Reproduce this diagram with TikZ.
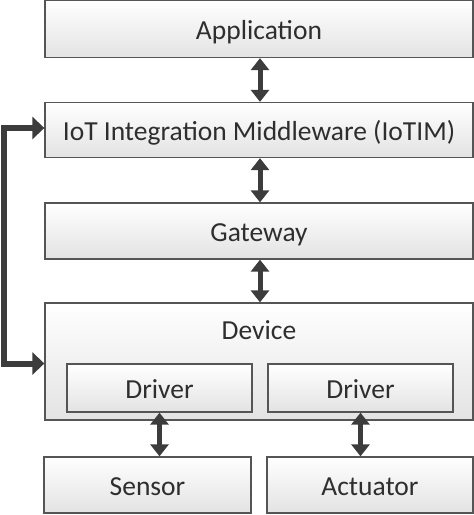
\documentclass[tikz,border=0pt]{standalone}
\usepackage{fontspec}
\setmainfont{Carlito}
\usetikzlibrary{arrows.meta}
\definecolor{bordc}{HTML}{555555}
\definecolor{arrc}{HTML}{3C3C3C}
\tikzset{
  lbl/.style={text=black!82, font=\fontsize{27.5}{32}\selectfont, text height=23pt, text depth=3pt},
  box/.style={lbl, draw=bordc, line width=1.3pt, top color=white, bottom color=black!11,
    inner sep=0pt},
  dbl/.style={draw=arrc, line width=5pt,
    {Triangle[width=18pt,length=12pt]}-{Triangle[width=18pt,length=12pt]}},
  fb/.style={draw=arrc, line width=6pt,
    {Triangle[width=22pt,length=12pt]}-{Triangle[width=22pt,length=12pt]}}
}
\begin{document}
\begin{tikzpicture}[x=1pt,y=-1pt]
\useasboundingbox (0,0) rectangle (474,515);
\node[box, minimum width=428pt, minimum height=57pt] (app) at (259,29) {Application};
\node[box, minimum width=428pt, minimum height=55pt] (iotim) at (259,130) {IoT Integration Middleware (IoTIM)};
\node[box, minimum width=428pt, minimum height=56pt] (gw) at (259,231) {Gateway};
\node[box, minimum width=428pt, minimum height=117pt] (dev) at (259,361.5) {};
\node[lbl] (devlbl) at (259,329) {Device};
\node[box, minimum width=185pt, minimum height=48pt] (drv1) at (159.5,388) {Driver};
\node[box, minimum width=185pt, minimum height=48pt] (drv2) at (360.5,388) {Driver};
\node[box, minimum width=207pt, minimum height=56pt] (sen) at (147.5,485) {Sensor};
\node[box, minimum width=206pt, minimum height=56pt] (act) at (370,485) {Actuator};
\coordinate (L) at (4,0);
\draw[dbl] ([xshift=1pt]app.south) -- ([xshift=1pt]iotim.north);
\draw[dbl] ([xshift=1pt]iotim.south) -- ([xshift=1pt]gw.north);
\draw[dbl] ([xshift=1pt]gw.south) -- ([xshift=1pt]dev.north);
\draw[dbl] (drv1.south) -- (drv1.south |- sen.north);
\draw[dbl] (drv2.south) -- (drv2.south |- act.north);
\draw[fb] ([yshift=2pt]iotim.west) -- ([yshift=2pt]iotim.west -| L) |- ([yshift=-2pt]dev.west);
\end{tikzpicture}
\end{document}
